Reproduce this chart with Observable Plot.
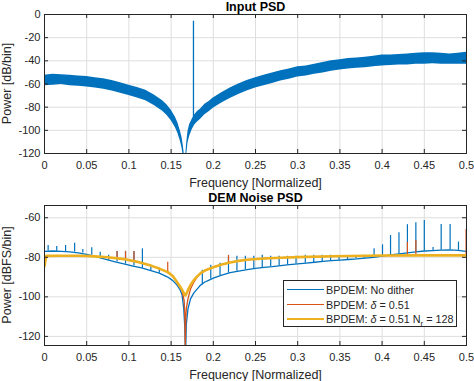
<!DOCTYPE html>
<html><head><meta charset="utf-8">
<script src="https://cdn.jsdelivr.net/npm/d3@7"></script>
<script src="https://cdn.jsdelivr.net/npm/@observablehq/plot@0.6"></script>
<style>
body{margin:0;background:#fff;}
#wrap{position:relative;width:474px;height:381px;font-family:"Liberation Sans",Arial,sans-serif;overflow:hidden;}
#wrap svg{display:block;}
.legend{position:absolute;left:283px;top:280px;width:174px;height:47px;border:1px solid #262626;background:#fff;box-sizing:border-box;font-size:10.8px;color:#262626;}
.legend .row{position:absolute;left:0;height:14px;line-height:14px;white-space:nowrap;}
.legend .sw{position:absolute;left:3px;top:7px;width:37px;height:0;}
.legend .lab{position:absolute;left:42px;top:0;}
</style></head><body><div id="wrap"></div>
<script>
// ---------- shared ticks ----------
const xTicks = [0, 0.05, 0.1, 0.15, 0.2, 0.25, 0.3, 0.35, 0.4, 0.45, 0.5];
const yTicksTop = [0, -20, -40, -60, -80, -100, -120];
const yTicksBottom = [-60, -80, -100, -120];
const titles = ["Input PSD", "DEM Noise PSD"];
const xLabel = "Frequency [Normalized]";
const yLabels = ["Power [dB/bin]", "Power [dBFS/bin]"];

// ---------- Input PSD: noisy band (low/high envelope), NaN = notch gap ----------
const inFreq = [0, 0.01, 0.02, 0.03, 0.04, 0.05, 0.06, 0.07, 0.08, 0.09, 0.10, 0.11, 0.12, 0.13, 0.14, 0.145, 0.15, 0.155, 0.158, 0.161, 0.163, 0.1645, 0.1655,
  0.1665,
  0.1675, 0.1685, 0.170, 0.172, 0.175, 0.178, 0.181, 0.185, 0.19, 0.195, 0.20, 0.21, 0.22, 0.23, 0.24, 0.25, 0.26, 0.27, 0.28, 0.29, 0.30, 0.31, 0.32, 0.33, 0.34, 0.35, 0.36, 0.37, 0.38, 0.39, 0.40, 0.41, 0.42, 0.43, 0.44, 0.45, 0.46, 0.47, 0.48, 0.49, 0.50];
const inLow = [-61.5, -61, -60.5, -61.5, -62, -62.5, -63.5, -64.5, -66, -68, -70, -72, -74.5, -78.5, -83.5, -87, -91.5, -97.5, -102.5, -109.5, -115.5, -122.5, -130,
  NaN,
  -130, -121, -111, -105, -99.5, -95.5, -93, -90.5, -86.5, -84, -81, -76.5, -72.5, -69, -66, -63.5, -61.5, -59.5, -57.5, -56, -54, -53, -51.5, -50.5, -49, -48, -47, -46.5, -46, -45, -44.5, -44, -43.5, -43.5, -43, -43, -42.5, -43, -43, -43, -43];
const inHigh = [-52.5, -51.5, -52, -52.5, -53, -53.5, -54.5, -55.5, -57, -59, -61, -63, -65.5, -69.5, -74.5, -78, -82.5, -88.5, -93.5, -100.5, -106.5, -113.5, -120,
  NaN,
  -120, -111, -101, -95, -90.5, -86.5, -84, -81.5, -77.5, -75, -72, -67.5, -63.5, -60, -57, -54.5, -52.5, -50.5, -48.5, -47, -45, -44.5, -43, -41.5, -40, -39, -38, -37.5, -37, -36, -35, -35, -34.5, -34, -33.5, -33, -33, -33.5, -34, -33.5, -32.5];
const toneFreq = [0.1765];
const toneBase = [-92];
const tonePeak = [-5.8];

// ---------- DEM Noise PSD ----------
const seriesNames = ["BPDEM: No dither", "BPDEM: δ = 0.51", "BPDEM: δ = 0.51 N_r = 128"];
const blueFreq = [0, 0.01, 0.02, 0.03, 0.04, 0.05, 0.055, 0.065, 0.075, 0.085, 0.094, 0.105, 0.115, 0.126, 0.136, 0.146, 0.152, 0.157, 0.161, 0.163, 0.165, 0.1662, 0.1668, 0.1674, 0.168, 0.170, 0.173, 0.177, 0.181, 0.185, 0.19, 0.195, 0.2, 0.21, 0.22, 0.23, 0.24, 0.25, 0.26, 0.27, 0.28, 0.29, 0.30, 0.31, 0.32, 0.33, 0.34, 0.35, 0.36, 0.37, 0.38, 0.39, 0.40, 0.41, 0.42, 0.43, 0.44, 0.45, 0.46, 0.47, 0.48, 0.49, 0.50];
const blueDb = [-77, -76.8, -77, -77.3, -77.8, -78.5, -79, -80.2, -81.3, -82.4, -83.3, -84.4, -85.4, -86.7, -88, -90, -91.8, -94, -96.8, -99, -106, -115, -125, -125, -114, -106, -101, -98, -96, -94, -92.5, -91.5, -90.5, -89, -87.8, -87, -86.2, -85.6, -85.1, -84.7, -84.2, -83.7, -83.3, -82.9, -82.5, -82.1, -81.7, -81.4, -81.1, -80.8, -80.4, -80, -79.4, -78.8, -78.3, -77.8, -77.3, -76.8, -76.6, -76.4, -76.2, -76.5, -77];
const blueSpikeFreq = [0.0043, 0.0145, 0.025, 0.0357, 0.0454, 0.056, 0.066, 0.076, 0.086, 0.096, 0.106, 0.116, 0.126, 0.136, 0.187, 0.197, 0.208, 0.218, 0.228, 0.238, 0.248, 0.258, 0.268, 0.278, 0.288, 0.298, 0.309, 0.319, 0.329, 0.339, 0.349, 0.359, 0.369, 0.379, 0.3905, 0.4005, 0.410, 0.420, 0.430, 0.440, 0.450, 0.4604, 0.470, 0.4806, 0.4905];
const blueSpikeBase = [-76.8, -76.9, -77, -77.3, -77.8, -79, -80.2, -81.3, -82.4, -83.4, -84.4, -85.5, -86.7, -88, -94, -91, -89.3, -88, -87, -86.2, -85.7, -85.2, -84.8, -84.3, -83.8, -83.4, -83, -82.6, -82.2, -81.8, -81.5, -81.2, -80.9, -80.5, -80, -79.5, -79, -78.3, -77.8, -77.3, -76.8, -76.6, -76.4, -76.2, -76.5];
const blueSpikeTop = [-74, -74.5, -74, -72.9, -76, -75.2, -77.4, -79, -77, -77, -77, -75.7, -84, -85.5, -86.5, -84, -83, -80, -79.5, -79.5, -79.5, -79, -79.5, -79.5, -79.5, -79.5, -79, -79, -79, -79, -79.5, -79.5, -79.5, -79, -75.7, -73.7, -69, -67.6, -63.5, -62.5, -61.4, -75, -63.4, -63.4, -72.3];

const orangeFreq = [0, 0.002, 0.02, 0.04, 0.055, 0.075, 0.094, 0.11, 0.126, 0.136, 0.146, 0.152, 0.157, 0.161, 0.163, 0.1655, 0.1663, 0.1668, 0.1673, 0.168, 0.17, 0.173, 0.177, 0.18, 0.185, 0.19, 0.2, 0.21, 0.22, 0.23, 0.24, 0.26, 0.28, 0.3, 0.34, 0.4, 0.45, 0.5];
const orangeDb = [-84, -79.3, -79.2, -79.2, -79.4, -80, -80.9, -82.3, -84.2, -85.7, -87.5, -89.5, -92.8, -95.5, -97, -102, -110, -124.6, -112, -106, -101, -96, -92.5, -90.5, -88, -86.7, -85, -83.6, -82.6, -81.8, -81.2, -80.6, -80.2, -79.9, -79.5, -79.1, -79, -79];
const orangeSpikeFreq = [0.086, 0.096, 0.106, 0.146, 0.218, 0.430, 0.440, 0.4995];
const orangeSpikeBase = [-80.6, -81.2, -82, -87.5, -82.6, -79, -79, -79];
const orangeSpikeTop = [-77, -77, -77, -82.5, -79, -72.5, -71.5, -66];

const yellowFreq = [0, 0.002, 0.02, 0.04, 0.055, 0.075, 0.094, 0.11, 0.126, 0.136, 0.146, 0.152, 0.157, 0.161, 0.163, 0.1655, 0.1668, 0.168, 0.17, 0.173, 0.177, 0.18, 0.185, 0.19, 0.2, 0.21, 0.22, 0.23, 0.24, 0.26, 0.28, 0.3, 0.34, 0.4, 0.45, 0.5];
const yellowDb = [-84.5, -79.3, -79.2, -79.2, -79.4, -80, -80.9, -82.3, -84.2, -85.7, -87.5, -89.5, -92.5, -95, -96.5, -98.5, -99.3, -98.5, -96.5, -94, -91.5, -90, -88, -86.7, -85, -83.6, -82.6, -81.8, -81.2, -80.6, -80.2, -79.9, -79.5, -79.1, -79, -79];

const BLUE = "#0072BD", ORANGE = "#D95319", YELLOW = "#EDB120", INK = "#262626", GRID = "#dedede";

// ---------- helpers ----------
const pts = (xs, ys) => xs.map((x, i) => ({x, y: ys[i]}));
const spikes = (xs, a, b) => xs.map((x, i) => ({x, y1: a[i], y2: b[i]}));

const W = 474, ML = 44, MR = 8;
function panel({height, mt, mb, yDomain, yTicks, title, ylabel, marks}) {
  const ph = height - mt - mb, pw = W - ML - MR;
  const svg = Plot.plot({
    width: W, height, marginTop: mt, marginBottom: mb, marginLeft: ML, marginRight: MR,
    style: {fontFamily: "'Liberation Sans', Arial, sans-serif", fontSize: "11px", color: INK, background: "white"},
    x: {domain: [0, 0.5]},
    y: {domain: yDomain},
    marks: [
      Plot.gridX(xTicks, {stroke: GRID, strokeOpacity: 1}),
      Plot.gridY(yTicks, {stroke: GRID, strokeOpacity: 1}),
      ...marks,
      Plot.ruleX(xTicks, {insetTop: ph - 4, stroke: INK}),
      Plot.ruleX(xTicks, {insetBottom: ph - 4, stroke: INK}),
      Plot.ruleY(yTicks, {insetRight: pw - 4, stroke: INK}),
      Plot.ruleY(yTicks, {insetLeft: pw - 4, stroke: INK}),
      Plot.frame({stroke: INK}),
      Plot.axisX(xTicks, {tickSize: 0, tickPadding: 8, tickFormat: d => String(d), label: null, fill: INK}),
      Plot.axisY(yTicks, {tickSize: 0, tickPadding: 4, tickFormat: d => String(d), label: null, fill: INK}),
      Plot.text([title], {frameAnchor: "top", dy: -4, lineAnchor: "bottom", fontWeight: "bold", fontSize: 12.5, fill: "#000"}),
      Plot.text([xLabel], {frameAnchor: "bottom", dy: 33, lineAnchor: "bottom", fontSize: 12.5, fill: INK})
    ]
  });
  // rotated y-axis title, centred on the plot frame
  d3.select(svg).append("text")
    .attr("transform", `translate(11,${mt + ph / 2}) rotate(-90)`)
    .attr("text-anchor", "middle")
    .attr("font-size", 12.5)
    .attr("fill", INK)
    .text(ylabel);
  return svg;
}

const topPanel = panel({
  height: 190, mt: 14, mb: 37, yDomain: [-120, 0], yTicks: yTicksTop, title: titles[0], ylabel: yLabels[0],
  marks: [
    Plot.areaY(inFreq.map((x, i) => ({x, lo: inLow[i], hi: inHigh[i]})), {x: "x", y1: "lo", y2: "hi", fill: BLUE, clip: true}),
    Plot.ruleX(spikes(toneFreq, toneBase, tonePeak), {x: "x", y1: "y1", y2: "y2", stroke: BLUE, strokeWidth: 1.3, clip: true})
  ]
});

const bottomPanel = panel({
  height: 191, mt: 15, mb: 36, yDomain: [-124.6, -53.8], yTicks: yTicksBottom, title: titles[1], ylabel: yLabels[1],
  marks: [
    Plot.line(pts(blueFreq, blueDb), {x: "x", y: "y", stroke: BLUE, strokeWidth: 1.3, clip: true}),
    Plot.ruleX(spikes(blueSpikeFreq, blueSpikeBase, blueSpikeTop), {x: "x", y1: "y1", y2: "y2", stroke: BLUE, strokeWidth: 1.2, clip: true}),
    Plot.line(pts(orangeFreq, orangeDb), {x: "x", y: "y", stroke: ORANGE, strokeWidth: 1.3, clip: true}),
    Plot.ruleX(spikes(orangeSpikeFreq, orangeSpikeBase, orangeSpikeTop), {x: "x", y1: "y1", y2: "y2", stroke: ORANGE, strokeWidth: 1.2, clip: true}),
    Plot.line(pts(yellowFreq, yellowDb), {x: "x", y: "y", stroke: YELLOW, strokeWidth: 2.6, clip: true})
  ]
});

const wrap = document.getElementById("wrap");
wrap.appendChild(topPanel);
wrap.appendChild(bottomPanel);

// legend
const legend = document.createElement("div");
legend.className = "legend";
const colors = [BLUE, ORANGE, YELLOW];
const widths = [1.3, 1.3, 2.6];
const rowsTop = [2, 17, 31];
const labelHtml = seriesNames.map(s => s.replace("δ", "<i>δ</i>").replace("N_r", "N<sub style='font-size:8px;vertical-align:-3px'>r</sub>"));
seriesNames.forEach((s, i) => {
  const row = document.createElement("div");
  row.className = "row";
  row.style.top = rowsTop[i] + "px";
  row.style.width = "100%";
  row.innerHTML = `<div class="sw" style="border-top:${widths[i]}px solid ${colors[i]};margin-top:-${widths[i]/2}px"></div><div class="lab">${labelHtml[i]}</div>`;
  legend.appendChild(row);
});
wrap.appendChild(legend);
</script>
</body></html>
